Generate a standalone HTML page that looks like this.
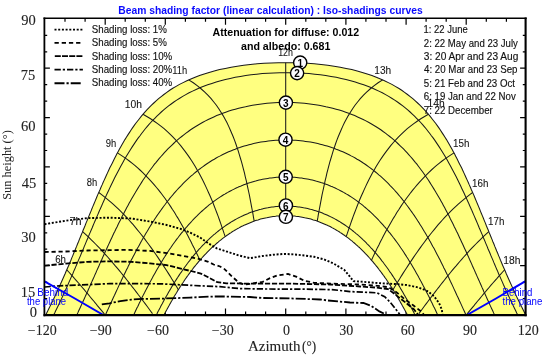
<!DOCTYPE html>
<html><head><meta charset="utf-8"><style>html,body{margin:0;padding:0;background:#fff;width:550px;height:359px;overflow:hidden}svg{display:block;filter:blur(0.3px)}</style></head><body>
<svg width="550" height="359" viewBox="0 0 550 359">
<rect width="550" height="359" fill="#fff"/>
<defs><clipPath id="pc"><rect x="44.4" y="18.3" width="481.2" height="296.8"/></clipPath></defs>
<path d="M65.0,18.3v3.5M65.0,315.1v-3.5M85.1,18.3v3.5M85.1,315.1v-3.5M105.2,18.3v6.5M105.2,315.1v-6.5M125.2,18.3v3.5M125.2,315.1v-3.5M145.3,18.3v3.5M145.3,315.1v-3.5M165.3,18.3v6.5M165.3,315.1v-6.5M185.4,18.3v3.5M185.4,315.1v-3.5M205.5,18.3v3.5M205.5,315.1v-3.5M225.5,18.3v6.5M225.5,315.1v-6.5M245.6,18.3v3.5M245.6,315.1v-3.5M265.6,18.3v3.5M265.6,315.1v-3.5M285.7,18.3v6.5M285.7,315.1v-6.5M305.8,18.3v3.5M305.8,315.1v-3.5M325.8,18.3v3.5M325.8,315.1v-3.5M345.9,18.3v6.5M345.9,315.1v-6.5M365.9,18.3v3.5M365.9,315.1v-3.5M386.0,18.3v3.5M386.0,315.1v-3.5M406.1,18.3v6.5M406.1,315.1v-6.5M426.1,18.3v3.5M426.1,315.1v-3.5M446.2,18.3v3.5M446.2,315.1v-3.5M466.2,18.3v6.5M466.2,315.1v-6.5M486.3,18.3v3.5M486.3,315.1v-3.5M506.4,18.3v3.5M506.4,315.1v-3.5M44.4,298.6h2.8M525.6,298.6h-2.8M44.4,282.1h2.8M525.6,282.1h-2.8M44.4,265.6h5.5M525.6,265.6h-5.5M44.4,249.2h2.8M525.6,249.2h-2.8M44.4,232.8h2.8M525.6,232.8h-2.8M44.4,216.3h5.5M525.6,216.3h-5.5M44.4,199.8h2.8M525.6,199.8h-2.8M44.4,183.4h2.8M525.6,183.4h-2.8M44.4,166.9h5.5M525.6,166.9h-5.5M44.4,150.5h2.8M525.6,150.5h-2.8M44.4,134.1h2.8M525.6,134.1h-2.8M44.4,117.6h5.5M525.6,117.6h-5.5M44.4,101.2h2.8M525.6,101.2h-2.8M44.4,84.7h2.8M525.6,84.7h-2.8M44.4,68.2h5.5M525.6,68.2h-5.5M44.4,51.8h2.8M525.6,51.8h-2.8M44.4,35.4h2.8M525.6,35.4h-2.8" stroke="#000" stroke-width="1.2" fill="none"/>
<g clip-path="url(#pc)">
<polygon points="45.6,315.0 46.7,312.9 47.8,310.8 48.8,308.7 49.9,306.6 50.9,304.5 52.0,302.3 53.0,300.2 54.1,298.0 55.1,295.9 56.1,293.7 57.1,291.5 58.1,289.3 59.1,287.1 60.1,284.9 61.1,282.7 62.1,280.5 63.1,278.3 64.1,276.0 65.1,273.8 66.0,271.5 67.0,269.3 68.0,267.0 69.0,264.7 69.9,262.5 70.9,260.2 71.8,257.9 72.8,255.6 73.7,253.3 74.7,251.0 75.6,248.7 76.6,246.4 77.5,244.0 78.5,241.7 79.4,239.4 80.4,237.0 81.3,234.7 82.3,232.4 83.2,230.0 84.2,227.7 85.2,225.3 86.1,222.9 87.1,220.6 88.0,218.2 89.0,215.9 90.0,213.5 91.0,211.1 91.9,208.7 92.9,206.4 93.9,204.0 94.9,201.6 95.9,199.2 96.9,196.8 97.9,194.4 98.9,192.1 100.0,189.7 101.0,187.3 102.1,184.9 103.1,182.5 104.2,180.1 105.3,177.7 106.4,175.3 107.5,172.9 108.6,170.5 109.7,168.1 110.9,165.8 112.1,163.4 113.3,161.0 114.5,158.6 115.7,156.2 116.9,153.8 118.2,151.5 119.5,149.1 120.8,146.7 122.2,144.3 123.5,142.0 124.9,139.6 126.4,137.3 127.9,134.9 129.4,132.6 130.9,130.2 132.5,127.9 134.1,125.6 135.8,123.3 137.6,121.0 139.4,118.7 141.2,116.4 143.1,114.1 145.1,111.9 147.1,109.6 149.3,107.4 151.5,105.2 153.8,103.0 156.1,100.8 158.6,98.7 161.2,96.6 163.9,94.5 166.8,92.4 169.7,90.3 172.8,88.3 176.1,86.4 179.5,84.4 183.1,82.6 186.9,80.7 190.9,78.9 195.1,77.2 199.5,75.5 204.2,74.0 209.1,72.4 214.2,71.0 219.6,69.6 225.3,68.4 231.2,67.2 237.3,66.2 243.7,65.3 250.3,64.5 257.2,63.8 264.1,63.3 271.2,63.0 278.5,62.7 285.7,62.7 292.9,62.7 300.2,63.0 307.3,63.3 314.2,63.8 321.1,64.5 327.7,65.3 334.1,66.2 340.2,67.2 346.1,68.4 351.8,69.6 357.2,71.0 362.3,72.4 367.2,74.0 371.9,75.5 376.3,77.2 380.5,78.9 384.5,80.7 388.3,82.6 391.9,84.4 395.3,86.4 398.6,88.3 401.7,90.3 404.6,92.4 407.5,94.5 410.2,96.6 412.8,98.7 415.3,100.8 417.6,103.0 419.9,105.2 422.1,107.4 424.3,109.6 426.3,111.9 428.3,114.1 430.2,116.4 432.0,118.7 433.8,121.0 435.6,123.3 437.3,125.6 438.9,127.9 440.5,130.2 442.0,132.6 443.5,134.9 445.0,137.3 446.5,139.6 447.9,142.0 449.2,144.3 450.6,146.7 451.9,149.1 453.2,151.5 454.5,153.8 455.7,156.2 456.9,158.6 458.1,161.0 459.3,163.4 460.5,165.8 461.7,168.1 462.8,170.5 463.9,172.9 465.0,175.3 466.1,177.7 467.2,180.1 468.3,182.5 469.3,184.9 470.4,187.3 471.4,189.7 472.5,192.1 473.5,194.4 474.5,196.8 475.5,199.2 476.5,201.6 477.5,204.0 478.5,206.4 479.5,208.7 480.4,211.1 481.4,213.5 482.4,215.9 483.4,218.2 484.3,220.6 485.3,222.9 486.2,225.3 487.2,227.7 488.2,230.0 489.1,232.4 490.1,234.7 491.0,237.0 492.0,239.4 492.9,241.7 493.9,244.0 494.8,246.4 495.8,248.7 496.7,251.0 497.7,253.3 498.6,255.6 499.6,257.9 500.5,260.2 501.5,262.5 502.4,264.7 503.4,267.0 504.4,269.3 505.4,271.5 506.3,273.8 507.3,276.0 508.3,278.3 509.3,280.5 510.3,282.7 511.3,284.9 512.3,287.1 513.3,289.3 514.3,291.5 515.3,293.7 516.3,295.9 517.3,298.0 518.4,300.2 519.4,302.3 520.5,304.5 521.5,306.6 522.6,308.7 523.6,310.8 524.7,312.9 525.8,315.0 407.4,315.0 406.7,313.6 406.0,312.3 405.3,310.9 404.5,309.6 403.8,308.2 403.1,306.9 402.3,305.5 401.6,304.2 400.8,302.9 400.1,301.6 399.3,300.2 398.6,298.9 397.8,297.6 397.1,296.3 396.3,295.0 395.5,293.8 394.7,292.5 394.0,291.2 393.2,289.9 392.4,288.7 391.6,287.4 390.8,286.2 390.0,284.9 389.2,283.7 388.3,282.5 387.5,281.3 386.7,280.0 385.9,278.8 385.0,277.6 384.2,276.4 383.3,275.3 382.5,274.1 381.6,272.9 380.8,271.8 379.9,270.6 379.0,269.5 378.2,268.3 377.3,267.2 376.4,266.1 375.5,265.0 374.6,263.9 373.7,262.8 372.8,261.7 371.8,260.6 370.9,259.6 370.0,258.5 369.1,257.5 368.1,256.4 367.2,255.4 366.2,254.4 365.2,253.4 364.3,252.4 363.3,251.4 362.3,250.4 361.3,249.4 360.3,248.5 359.4,247.5 358.3,246.6 357.3,245.7 356.3,244.8 355.3,243.9 354.3,243.0 353.2,242.1 352.2,241.2 351.1,240.4 350.1,239.6 349.0,238.7 348.0,237.9 346.9,237.1 345.8,236.3 344.7,235.5 343.6,234.8 342.5,234.0 341.4,233.3 340.3,232.6 339.2,231.8 338.1,231.1 337.0,230.5 335.8,229.8 334.7,229.1 333.6,228.5 332.4,227.9 331.3,227.2 330.1,226.6 328.9,226.1 327.8,225.5 326.6,224.9 325.4,224.4 324.2,223.9 323.0,223.4 321.8,222.9 320.6,222.4 319.4,221.9 318.2,221.5 317.0,221.1 315.8,220.6 314.6,220.2 313.3,219.9 312.1,219.5 310.9,219.1 309.6,218.8 308.4,218.5 307.2,218.2 305.9,217.9 304.7,217.7 303.4,217.4 302.2,217.2 300.9,217.0 299.6,216.8 298.4,216.6 297.1,216.4 295.8,216.3 294.6,216.1 293.3,216.0 292.0,215.9 290.8,215.8 289.5,215.8 288.2,215.7 287.0,215.7 285.7,215.7 284.4,215.7 283.2,215.7 281.9,215.8 280.6,215.8 279.4,215.9 278.1,216.0 276.8,216.1 275.6,216.3 274.3,216.4 273.0,216.6 271.8,216.8 270.5,217.0 269.2,217.2 268.0,217.4 266.7,217.7 265.5,217.9 264.2,218.2 263.0,218.5 261.8,218.8 260.5,219.1 259.3,219.5 258.1,219.9 256.8,220.2 255.6,220.6 254.4,221.1 253.2,221.5 252.0,221.9 250.8,222.4 249.6,222.9 248.4,223.4 247.2,223.9 246.0,224.4 244.8,224.9 243.6,225.5 242.5,226.1 241.3,226.6 240.1,227.2 239.0,227.9 237.8,228.5 236.7,229.1 235.6,229.8 234.4,230.5 233.3,231.1 232.2,231.8 231.1,232.6 230.0,233.3 228.9,234.0 227.8,234.8 226.7,235.5 225.6,236.3 224.5,237.1 223.4,237.9 222.4,238.7 221.3,239.6 220.3,240.4 219.2,241.2 218.2,242.1 217.1,243.0 216.1,243.9 215.1,244.8 214.1,245.7 213.1,246.6 212.0,247.5 211.1,248.5 210.1,249.4 209.1,250.4 208.1,251.4 207.1,252.4 206.2,253.4 205.2,254.4 204.2,255.4 203.3,256.4 202.3,257.5 201.4,258.5 200.5,259.6 199.6,260.6 198.6,261.7 197.7,262.8 196.8,263.9 195.9,265.0 195.0,266.1 194.1,267.2 193.2,268.3 192.4,269.5 191.5,270.6 190.6,271.8 189.8,272.9 188.9,274.1 188.1,275.3 187.2,276.4 186.4,277.6 185.5,278.8 184.7,280.0 183.9,281.3 183.1,282.5 182.2,283.7 181.4,284.9 180.6,286.2 179.8,287.4 179.0,288.7 178.2,289.9 177.4,291.2 176.7,292.5 175.9,293.8 175.1,295.0 174.3,296.3 173.6,297.6 172.8,298.9 172.1,300.2 171.3,301.6 170.6,302.9 169.8,304.2 169.1,305.5 168.3,306.9 167.6,308.2 166.9,309.6 166.1,310.9 165.4,312.3 164.7,313.6 164.0,315.0" fill="#FFFF80" stroke="none"/>
<polyline points="45.6,315.0 46.7,312.9 47.8,310.8 48.8,308.7 49.9,306.6 50.9,304.5 52.0,302.3 53.0,300.2 54.1,298.0 55.1,295.9 56.1,293.7 57.1,291.5 58.1,289.3 59.1,287.1 60.1,284.9 61.1,282.7 62.1,280.5 63.1,278.3 64.1,276.0 65.1,273.8 66.0,271.5 67.0,269.3 68.0,267.0 69.0,264.7 69.9,262.5 70.9,260.2 71.8,257.9 72.8,255.6 73.7,253.3 74.7,251.0 75.6,248.7 76.6,246.4 77.5,244.0 78.5,241.7 79.4,239.4 80.4,237.0 81.3,234.7 82.3,232.4 83.2,230.0 84.2,227.7 85.2,225.3 86.1,222.9 87.1,220.6 88.0,218.2 89.0,215.9 90.0,213.5 91.0,211.1 91.9,208.7 92.9,206.4 93.9,204.0 94.9,201.6 95.9,199.2 96.9,196.8 97.9,194.4 98.9,192.1 100.0,189.7 101.0,187.3 102.1,184.9 103.1,182.5 104.2,180.1 105.3,177.7 106.4,175.3 107.5,172.9 108.6,170.5 109.7,168.1 110.9,165.8 112.1,163.4 113.3,161.0 114.5,158.6 115.7,156.2 116.9,153.8 118.2,151.5 119.5,149.1 120.8,146.7 122.2,144.3 123.5,142.0 124.9,139.6 126.4,137.3 127.9,134.9 129.4,132.6 130.9,130.2 132.5,127.9 134.1,125.6 135.8,123.3 137.6,121.0 139.4,118.7 141.2,116.4 143.1,114.1 145.1,111.9 147.1,109.6 149.3,107.4 151.5,105.2 153.8,103.0 156.1,100.8 158.6,98.7 161.2,96.6 163.9,94.5 166.8,92.4 169.7,90.3 172.8,88.3 176.1,86.4 179.5,84.4 183.1,82.6 186.9,80.7 190.9,78.9 195.1,77.2 199.5,75.5 204.2,74.0 209.1,72.4 214.2,71.0 219.6,69.6 225.3,68.4 231.2,67.2 237.3,66.2 243.7,65.3 250.3,64.5 257.2,63.8 264.1,63.3 271.2,63.0 278.5,62.7 285.7,62.7 292.9,62.7 300.2,63.0 307.3,63.3 314.2,63.8 321.1,64.5 327.7,65.3 334.1,66.2 340.2,67.2 346.1,68.4 351.8,69.6 357.2,71.0 362.3,72.4 367.2,74.0 371.9,75.5 376.3,77.2 380.5,78.9 384.5,80.7 388.3,82.6 391.9,84.4 395.3,86.4 398.6,88.3 401.7,90.3 404.6,92.4 407.5,94.5 410.2,96.6 412.8,98.7 415.3,100.8 417.6,103.0 419.9,105.2 422.1,107.4 424.3,109.6 426.3,111.9 428.3,114.1 430.2,116.4 432.0,118.7 433.8,121.0 435.6,123.3 437.3,125.6 438.9,127.9 440.5,130.2 442.0,132.6 443.5,134.9 445.0,137.3 446.5,139.6 447.9,142.0 449.2,144.3 450.6,146.7 451.9,149.1 453.2,151.5 454.5,153.8 455.7,156.2 456.9,158.6 458.1,161.0 459.3,163.4 460.5,165.8 461.7,168.1 462.8,170.5 463.9,172.9 465.0,175.3 466.1,177.7 467.2,180.1 468.3,182.5 469.3,184.9 470.4,187.3 471.4,189.7 472.5,192.1 473.5,194.4 474.5,196.8 475.5,199.2 476.5,201.6 477.5,204.0 478.5,206.4 479.5,208.7 480.4,211.1 481.4,213.5 482.4,215.9 483.4,218.2 484.3,220.6 485.3,222.9 486.2,225.3 487.2,227.7 488.2,230.0 489.1,232.4 490.1,234.7 491.0,237.0 492.0,239.4 492.9,241.7 493.9,244.0 494.8,246.4 495.8,248.7 496.7,251.0 497.7,253.3 498.6,255.6 499.6,257.9 500.5,260.2 501.5,262.5 502.4,264.7 503.4,267.0 504.4,269.3 505.4,271.5 506.3,273.8 507.3,276.0 508.3,278.3 509.3,280.5 510.3,282.7 511.3,284.9 512.3,287.1 513.3,289.3 514.3,291.5 515.3,293.7 516.3,295.9 517.3,298.0 518.4,300.2 519.4,302.3 520.5,304.5 521.5,306.6 522.6,308.7 523.6,310.8 524.7,312.9 525.8,315.0" fill="none" stroke="#1a1a1a" stroke-width="1.05"/>
<polyline points="53.6,315.0 54.7,312.9 55.7,310.8 56.7,308.7 57.8,306.5 58.8,304.4 59.8,302.2 60.9,300.1 61.9,297.9 62.9,295.7 63.9,293.6 64.9,291.4 65.9,289.2 66.9,287.0 67.9,284.8 68.8,282.6 69.8,280.4 70.8,278.1 71.8,275.9 72.8,273.7 73.7,271.4 74.7,269.2 75.7,266.9 76.6,264.7 77.6,262.4 78.5,260.1 79.5,257.9 80.5,255.6 81.4,253.3 82.4,251.0 83.4,248.7 84.3,246.4 85.3,244.1 86.2,241.9 87.2,239.5 88.2,237.2 89.1,234.9 90.1,232.6 91.1,230.3 92.1,228.0 93.0,225.7 94.0,223.4 95.0,221.0 96.0,218.7 97.0,216.4 98.0,214.1 99.0,211.7 100.0,209.4 101.1,207.1 102.1,204.8 103.1,202.4 104.2,200.1 105.2,197.8 106.3,195.4 107.4,193.1 108.5,190.8 109.6,188.4 110.7,186.1 111.8,183.8 112.9,181.5 114.1,179.1 115.2,176.8 116.4,174.5 117.6,172.2 118.8,169.9 120.1,167.5 121.3,165.2 122.6,162.9 123.9,160.6 125.2,158.3 126.5,156.0 127.9,153.7 129.3,151.5 130.7,149.2 132.2,146.9 133.7,144.6 135.2,142.4 136.7,140.1 138.3,137.9 140.0,135.7 141.6,133.5 143.4,131.2 145.1,129.0 146.9,126.9 148.8,124.7 150.7,122.5 152.7,120.4 154.8,118.3 156.9,116.2 159.1,114.1 161.3,112.0 163.7,109.9 166.1,107.9 168.6,105.9 171.2,104.0 173.9,102.0 176.7,100.1 179.7,98.2 182.7,96.4 185.8,94.6 189.1,92.8 192.6,91.1 196.1,89.5 199.8,87.8 203.7,86.3 207.7,84.8 211.9,83.4 216.2,82.0 220.7,80.7 225.4,79.5 230.2,78.4 235.2,77.3 240.4,76.4 245.7,75.5 251.1,74.8 256.7,74.2 262.3,73.6 268.1,73.2 273.9,72.9 279.8,72.8 285.7,72.7 291.6,72.8 297.5,72.9 303.3,73.2 309.1,73.6 314.7,74.2 320.3,74.8 325.7,75.5 331.0,76.4 336.2,77.3 341.2,78.4 346.0,79.5 350.7,80.7 355.2,82.0 359.5,83.4 363.7,84.8 367.7,86.3 371.6,87.8 375.3,89.5 378.8,91.1 382.3,92.8 385.6,94.6 388.7,96.4 391.7,98.2 394.7,100.1 397.5,102.0 400.2,104.0 402.8,105.9 405.3,107.9 407.7,109.9 410.1,112.0 412.3,114.1 414.5,116.2 416.6,118.3 418.7,120.4 420.7,122.5 422.6,124.7 424.5,126.9 426.3,129.0 428.0,131.2 429.8,133.5 431.4,135.7 433.1,137.9 434.7,140.1 436.2,142.4 437.7,144.6 439.2,146.9 440.7,149.2 442.1,151.5 443.5,153.7 444.9,156.0 446.2,158.3 447.5,160.6 448.8,162.9 450.1,165.2 451.3,167.5 452.6,169.9 453.8,172.2 455.0,174.5 456.2,176.8 457.3,179.1 458.5,181.5 459.6,183.8 460.7,186.1 461.8,188.4 462.9,190.8 464.0,193.1 465.1,195.4 466.2,197.8 467.2,200.1 468.3,202.4 469.3,204.8 470.3,207.1 471.4,209.4 472.4,211.7 473.4,214.1 474.4,216.4 475.4,218.7 476.4,221.0 477.4,223.4 478.4,225.7 479.3,228.0 480.3,230.3 481.3,232.6 482.3,234.9 483.2,237.2 484.2,239.5 485.2,241.9 486.1,244.1 487.1,246.4 488.0,248.7 489.0,251.0 490.0,253.3 490.9,255.6 491.9,257.9 492.9,260.1 493.8,262.4 494.8,264.7 495.7,266.9 496.7,269.2 497.7,271.4 498.6,273.7 499.6,275.9 500.6,278.1 501.6,280.4 502.6,282.6 503.5,284.8 504.5,287.0 505.5,289.2 506.5,291.4 507.5,293.6 508.5,295.7 509.5,297.9 510.5,300.1 511.6,302.2 512.6,304.4 513.6,306.5 514.7,308.7 515.7,310.8 516.7,312.9 517.8,315.0" fill="none" stroke="#1a1a1a" stroke-width="1.05"/>
<polyline points="76.8,315.0 77.8,312.9 78.7,310.8 79.7,308.7 80.7,306.6 81.7,304.4 82.6,302.3 83.6,300.2 84.6,298.1 85.5,295.9 86.5,293.8 87.5,291.7 88.4,289.5 89.4,287.4 90.3,285.2 91.3,283.1 92.2,280.9 93.2,278.8 94.2,276.6 95.1,274.4 96.1,272.3 97.0,270.1 98.0,268.0 99.0,265.8 99.9,263.6 100.9,261.5 101.9,259.3 102.8,257.1 103.8,255.0 104.8,252.8 105.8,250.6 106.8,248.5 107.8,246.3 108.8,244.1 109.8,242.0 110.8,239.8 111.8,237.7 112.8,235.5 113.8,233.3 114.9,231.2 115.9,229.0 117.0,226.9 118.0,224.7 119.1,222.5 120.2,220.4 121.3,218.3 122.3,216.1 123.5,214.0 124.6,211.8 125.7,209.7 126.8,207.6 128.0,205.4 129.1,203.3 130.3,201.2 131.5,199.1 132.7,197.0 133.9,194.9 135.2,192.8 136.4,190.7 137.7,188.6 139.0,186.5 140.3,184.5 141.6,182.4 142.9,180.3 144.3,178.3 145.7,176.3 147.1,174.2 148.5,172.2 150.0,170.2 151.5,168.2 153.0,166.2 154.5,164.2 156.1,162.3 157.7,160.3 159.3,158.4 161.0,156.5 162.7,154.6 164.4,152.7 166.1,150.8 167.9,148.9 169.8,147.1 171.7,145.3 173.6,143.5 175.5,141.7 177.5,139.9 179.6,138.2 181.7,136.5 183.8,134.8 186.0,133.1 188.3,131.5 190.6,129.8 192.9,128.3 195.3,126.7 197.8,125.2 200.3,123.7 202.9,122.3 205.5,120.9 208.2,119.5 211.0,118.2 213.8,116.9 216.7,115.6 219.6,114.4 222.7,113.3 225.7,112.2 228.9,111.1 232.1,110.1 235.3,109.2 238.7,108.3 242.0,107.4 245.5,106.7 248.9,105.9 252.5,105.3 256.0,104.7 259.6,104.2 263.3,103.7 267.0,103.3 270.7,103.0 274.4,102.8 278.2,102.6 281.9,102.5 285.7,102.5 289.5,102.5 293.2,102.6 297.0,102.8 300.7,103.0 304.4,103.3 308.1,103.7 311.8,104.2 315.4,104.7 318.9,105.3 322.5,105.9 325.9,106.7 329.4,107.4 332.7,108.3 336.1,109.2 339.3,110.1 342.5,111.1 345.7,112.2 348.7,113.3 351.8,114.4 354.7,115.6 357.6,116.9 360.4,118.2 363.2,119.5 365.9,120.9 368.5,122.3 371.1,123.7 373.6,125.2 376.1,126.7 378.5,128.3 380.8,129.8 383.1,131.5 385.4,133.1 387.6,134.8 389.7,136.5 391.8,138.2 393.9,139.9 395.9,141.7 397.8,143.5 399.7,145.3 401.6,147.1 403.5,148.9 405.3,150.8 407.0,152.7 408.7,154.6 410.4,156.5 412.1,158.4 413.7,160.3 415.3,162.3 416.9,164.2 418.4,166.2 419.9,168.2 421.4,170.2 422.9,172.2 424.3,174.2 425.7,176.3 427.1,178.3 428.5,180.3 429.8,182.4 431.1,184.5 432.4,186.5 433.7,188.6 435.0,190.7 436.2,192.8 437.5,194.9 438.7,197.0 439.9,199.1 441.1,201.2 442.3,203.3 443.4,205.4 444.6,207.6 445.7,209.7 446.8,211.8 447.9,214.0 449.1,216.1 450.1,218.3 451.2,220.4 452.3,222.5 453.4,224.7 454.4,226.9 455.5,229.0 456.5,231.2 457.6,233.3 458.6,235.5 459.6,237.7 460.6,239.8 461.6,242.0 462.6,244.1 463.6,246.3 464.6,248.5 465.6,250.6 466.6,252.8 467.6,255.0 468.6,257.1 469.5,259.3 470.5,261.5 471.5,263.6 472.4,265.8 473.4,268.0 474.4,270.1 475.3,272.3 476.3,274.4 477.2,276.6 478.2,278.8 479.2,280.9 480.1,283.1 481.1,285.2 482.0,287.4 483.0,289.5 483.9,291.7 484.9,293.8 485.9,295.9 486.8,298.1 487.8,300.2 488.8,302.3 489.7,304.4 490.7,306.6 491.7,308.7 492.7,310.8 493.6,312.9 494.6,315.0" fill="none" stroke="#1a1a1a" stroke-width="1.05"/>
<polyline points="105.4,315.0 106.3,313.0 107.2,311.0 108.1,309.1 109.0,307.1 109.9,305.1 110.8,303.1 111.7,301.2 112.6,299.2 113.5,297.2 114.5,295.3 115.4,293.3 116.3,291.3 117.2,289.4 118.1,287.4 119.0,285.4 119.9,283.5 120.9,281.5 121.8,279.5 122.7,277.6 123.7,275.6 124.6,273.7 125.6,271.7 126.5,269.8 127.5,267.9 128.4,265.9 129.4,264.0 130.4,262.1 131.3,260.1 132.3,258.2 133.3,256.3 134.3,254.4 135.3,252.5 136.3,250.6 137.3,248.6 138.4,246.8 139.4,244.9 140.4,243.0 141.5,241.1 142.5,239.2 143.6,237.3 144.7,235.5 145.8,233.6 146.9,231.8 148.0,229.9 149.1,228.1 150.2,226.3 151.4,224.4 152.5,222.6 153.7,220.8 154.8,219.0 156.0,217.2 157.2,215.4 158.4,213.7 159.7,211.9 160.9,210.2 162.2,208.4 163.4,206.7 164.7,205.0 166.0,203.2 167.3,201.5 168.7,199.9 170.0,198.2 171.4,196.5 172.8,194.9 174.2,193.2 175.6,191.6 177.0,190.0 178.5,188.4 180.0,186.8 181.5,185.3 183.0,183.7 184.5,182.2 186.1,180.7 187.7,179.2 189.3,177.7 190.9,176.2 192.6,174.8 194.2,173.4 195.9,172.0 197.6,170.6 199.4,169.2 201.2,167.9 203.0,166.6 204.8,165.3 206.6,164.0 208.5,162.8 210.4,161.5 212.3,160.3 214.3,159.2 216.2,158.0 218.2,156.9 220.3,155.9 222.3,154.8 224.4,153.8 226.5,152.8 228.6,151.8 230.8,150.9 233.0,150.0 235.2,149.2 237.4,148.3 239.7,147.6 241.9,146.8 244.2,146.1 246.6,145.4 248.9,144.8 251.3,144.2 253.6,143.6 256.0,143.1 258.4,142.6 260.9,142.1 263.3,141.7 265.8,141.4 268.2,141.1 270.7,140.8 273.2,140.5 275.7,140.3 278.2,140.2 280.7,140.1 283.2,140.0 285.7,140.0 288.2,140.0 290.7,140.1 293.2,140.2 295.7,140.3 298.2,140.5 300.7,140.8 303.2,141.1 305.6,141.4 308.1,141.7 310.5,142.1 313.0,142.6 315.4,143.1 317.8,143.6 320.1,144.2 322.5,144.8 324.8,145.4 327.2,146.1 329.5,146.8 331.7,147.6 334.0,148.3 336.2,149.2 338.4,150.0 340.6,150.9 342.8,151.8 344.9,152.8 347.0,153.8 349.1,154.8 351.1,155.9 353.2,156.9 355.2,158.0 357.1,159.2 359.1,160.3 361.0,161.5 362.9,162.8 364.8,164.0 366.6,165.3 368.4,166.6 370.2,167.9 372.0,169.2 373.8,170.6 375.5,172.0 377.2,173.4 378.8,174.8 380.5,176.2 382.1,177.7 383.7,179.2 385.3,180.7 386.9,182.2 388.4,183.7 389.9,185.3 391.4,186.8 392.9,188.4 394.4,190.0 395.8,191.6 397.2,193.2 398.6,194.9 400.0,196.5 401.4,198.2 402.7,199.9 404.1,201.5 405.4,203.2 406.7,205.0 408.0,206.7 409.2,208.4 410.5,210.2 411.7,211.9 413.0,213.7 414.2,215.4 415.4,217.2 416.6,219.0 417.7,220.8 418.9,222.6 420.0,224.4 421.2,226.3 422.3,228.1 423.4,229.9 424.5,231.8 425.6,233.6 426.7,235.5 427.8,237.3 428.9,239.2 429.9,241.1 431.0,243.0 432.0,244.9 433.0,246.8 434.1,248.6 435.1,250.6 436.1,252.5 437.1,254.4 438.1,256.3 439.1,258.2 440.1,260.1 441.0,262.1 442.0,264.0 443.0,265.9 443.9,267.9 444.9,269.8 445.8,271.7 446.8,273.7 447.7,275.6 448.7,277.6 449.6,279.5 450.5,281.5 451.5,283.5 452.4,285.4 453.3,287.4 454.2,289.4 455.1,291.3 456.0,293.3 456.9,295.3 457.9,297.2 458.8,299.2 459.7,301.2 460.6,303.1 461.5,305.1 462.4,307.1 463.3,309.1 464.2,311.0 465.1,313.0 466.0,315.0" fill="none" stroke="#1a1a1a" stroke-width="1.05"/>
<polyline points="133.7,315.0 134.5,313.3 135.3,311.5 136.1,309.8 136.9,308.1 137.8,306.4 138.6,304.7 139.4,302.9 140.3,301.2 141.1,299.5 141.9,297.8 142.8,296.1 143.6,294.4 144.5,292.8 145.4,291.1 146.2,289.4 147.1,287.7 148.0,286.0 148.8,284.4 149.7,282.7 150.6,281.1 151.5,279.4 152.4,277.8 153.3,276.1 154.2,274.5 155.1,272.9 156.0,271.3 157.0,269.6 157.9,268.0 158.8,266.4 159.8,264.8 160.7,263.3 161.7,261.7 162.7,260.1 163.6,258.5 164.6,257.0 165.6,255.4 166.6,253.9 167.6,252.3 168.6,250.8 169.6,249.3 170.7,247.8 171.7,246.3 172.7,244.8 173.8,243.3 174.9,241.8 175.9,240.4 177.0,238.9 178.1,237.5 179.2,236.0 180.3,234.6 181.4,233.2 182.6,231.8 183.7,230.4 184.9,229.0 186.0,227.6 187.2,226.3 188.4,224.9 189.6,223.6 190.8,222.3 192.0,221.0 193.2,219.7 194.4,218.4 195.7,217.1 197.0,215.9 198.2,214.6 199.5,213.4 200.8,212.2 202.1,211.0 203.4,209.8 204.8,208.6 206.1,207.5 207.5,206.4 208.8,205.2 210.2,204.1 211.6,203.1 213.0,202.0 214.5,200.9 215.9,199.9 217.3,198.9 218.8,197.9 220.3,196.9 221.7,196.0 223.2,195.0 224.8,194.1 226.3,193.2 227.8,192.4 229.4,191.5 230.9,190.7 232.5,189.9 234.1,189.1 235.7,188.3 237.3,187.6 238.9,186.8 240.5,186.2 242.2,185.5 243.8,184.8 245.5,184.2 247.1,183.6 248.8,183.0 250.5,182.5 252.2,181.9 253.9,181.4 255.6,181.0 257.4,180.5 259.1,180.1 260.8,179.7 262.6,179.3 264.3,179.0 266.1,178.7 267.9,178.4 269.6,178.1 271.4,177.9 273.2,177.7 275.0,177.5 276.7,177.3 278.5,177.2 280.3,177.1 282.1,177.0 283.9,177.0 285.7,177.0 287.5,177.0 289.3,177.0 291.1,177.1 292.9,177.2 294.7,177.3 296.4,177.5 298.2,177.7 300.0,177.9 301.8,178.1 303.5,178.4 305.3,178.7 307.1,179.0 308.8,179.3 310.6,179.7 312.3,180.1 314.0,180.5 315.8,181.0 317.5,181.4 319.2,181.9 320.9,182.5 322.6,183.0 324.3,183.6 325.9,184.2 327.6,184.8 329.2,185.5 330.9,186.2 332.5,186.8 334.1,187.6 335.7,188.3 337.3,189.1 338.9,189.9 340.5,190.7 342.0,191.5 343.6,192.4 345.1,193.2 346.6,194.1 348.2,195.0 349.7,196.0 351.1,196.9 352.6,197.9 354.1,198.9 355.5,199.9 356.9,200.9 358.4,202.0 359.8,203.1 361.2,204.1 362.6,205.2 363.9,206.4 365.3,207.5 366.6,208.6 368.0,209.8 369.3,211.0 370.6,212.2 371.9,213.4 373.2,214.6 374.4,215.9 375.7,217.1 377.0,218.4 378.2,219.7 379.4,221.0 380.6,222.3 381.8,223.6 383.0,224.9 384.2,226.3 385.4,227.6 386.5,229.0 387.7,230.4 388.8,231.8 390.0,233.2 391.1,234.6 392.2,236.0 393.3,237.5 394.4,238.9 395.5,240.4 396.5,241.8 397.6,243.3 398.7,244.8 399.7,246.3 400.7,247.8 401.8,249.3 402.8,250.8 403.8,252.3 404.8,253.9 405.8,255.4 406.8,257.0 407.8,258.5 408.7,260.1 409.7,261.7 410.7,263.3 411.6,264.8 412.6,266.4 413.5,268.0 414.4,269.6 415.4,271.3 416.3,272.9 417.2,274.5 418.1,276.1 419.0,277.8 419.9,279.4 420.8,281.1 421.7,282.7 422.6,284.4 423.4,286.0 424.3,287.7 425.2,289.4 426.0,291.1 426.9,292.8 427.8,294.4 428.6,296.1 429.5,297.8 430.3,299.5 431.1,301.2 432.0,302.9 432.8,304.7 433.6,306.4 434.5,308.1 435.3,309.8 436.1,311.5 436.9,313.3 437.7,315.0" fill="none" stroke="#1a1a1a" stroke-width="1.05"/>
<polyline points="156.3,315.0 157.1,313.5 157.8,312.1 158.6,310.6 159.3,309.2 160.1,307.7 160.8,306.3 161.6,304.8 162.4,303.4 163.1,302.0 163.9,300.5 164.7,299.1 165.5,297.7 166.3,296.3 167.1,294.9 167.9,293.5 168.7,292.1 169.5,290.7 170.3,289.4 171.1,288.0 171.9,286.6 172.7,285.3 173.6,283.9 174.4,282.6 175.2,281.2 176.1,279.9 176.9,278.6 177.8,277.3 178.7,275.9 179.5,274.6 180.4,273.3 181.3,272.1 182.2,270.8 183.0,269.5 183.9,268.2 184.8,267.0 185.8,265.7 186.7,264.5 187.6,263.3 188.5,262.0 189.5,260.8 190.4,259.6 191.3,258.4 192.3,257.2 193.2,256.1 194.2,254.9 195.2,253.7 196.2,252.6 197.2,251.4 198.1,250.3 199.1,249.2 200.2,248.1 201.2,247.0 202.2,245.9 203.2,244.8 204.3,243.8 205.3,242.7 206.3,241.7 207.4,240.6 208.5,239.6 209.5,238.6 210.6,237.6 211.7,236.6 212.8,235.7 213.9,234.7 215.0,233.8 216.1,232.8 217.3,231.9 218.4,231.0 219.5,230.1 220.7,229.2 221.8,228.4 223.0,227.5 224.2,226.7 225.3,225.8 226.5,225.0 227.7,224.2 228.9,223.5 230.1,222.7 231.3,221.9 232.5,221.2 233.8,220.5 235.0,219.8 236.2,219.1 237.5,218.4 238.7,217.8 240.0,217.1 241.3,216.5 242.5,215.9 243.8,215.3 245.1,214.7 246.4,214.2 247.7,213.7 249.0,213.1 250.3,212.6 251.6,212.1 252.9,211.7 254.3,211.2 255.6,210.8 256.9,210.4 258.3,210.0 259.6,209.6 261.0,209.3 262.3,208.9 263.7,208.6 265.0,208.3 266.4,208.0 267.8,207.8 269.1,207.5 270.5,207.3 271.9,207.1 273.2,206.9 274.6,206.7 276.0,206.6 277.4,206.5 278.8,206.3 280.2,206.3 281.5,206.2 282.9,206.1 284.3,206.1 285.7,206.1 287.1,206.1 288.5,206.1 289.9,206.2 291.2,206.3 292.6,206.3 294.0,206.5 295.4,206.6 296.8,206.7 298.2,206.9 299.5,207.1 300.9,207.3 302.3,207.5 303.6,207.8 305.0,208.0 306.4,208.3 307.7,208.6 309.1,208.9 310.4,209.3 311.8,209.6 313.1,210.0 314.5,210.4 315.8,210.8 317.1,211.2 318.5,211.7 319.8,212.1 321.1,212.6 322.4,213.1 323.7,213.7 325.0,214.2 326.3,214.7 327.6,215.3 328.9,215.9 330.1,216.5 331.4,217.1 332.7,217.8 333.9,218.4 335.2,219.1 336.4,219.8 337.6,220.5 338.9,221.2 340.1,221.9 341.3,222.7 342.5,223.5 343.7,224.2 344.9,225.0 346.1,225.8 347.2,226.7 348.4,227.5 349.6,228.4 350.7,229.2 351.9,230.1 353.0,231.0 354.1,231.9 355.3,232.8 356.4,233.8 357.5,234.7 358.6,235.7 359.7,236.6 360.8,237.6 361.9,238.6 362.9,239.6 364.0,240.6 365.1,241.7 366.1,242.7 367.1,243.8 368.2,244.8 369.2,245.9 370.2,247.0 371.2,248.1 372.3,249.2 373.3,250.3 374.2,251.4 375.2,252.6 376.2,253.7 377.2,254.9 378.2,256.1 379.1,257.2 380.1,258.4 381.0,259.6 381.9,260.8 382.9,262.0 383.8,263.3 384.7,264.5 385.6,265.7 386.6,267.0 387.5,268.2 388.4,269.5 389.2,270.8 390.1,272.1 391.0,273.3 391.9,274.6 392.7,275.9 393.6,277.3 394.5,278.6 395.3,279.9 396.2,281.2 397.0,282.6 397.8,283.9 398.7,285.3 399.5,286.6 400.3,288.0 401.1,289.4 401.9,290.7 402.7,292.1 403.5,293.5 404.3,294.9 405.1,296.3 405.9,297.7 406.7,299.1 407.5,300.5 408.3,302.0 409.0,303.4 409.8,304.8 410.6,306.3 411.3,307.7 412.1,309.2 412.8,310.6 413.6,312.1 414.3,313.5 415.1,315.0" fill="none" stroke="#1a1a1a" stroke-width="1.05"/>
<polyline points="164.0,315.0 164.7,313.6 165.4,312.3 166.1,310.9 166.9,309.6 167.6,308.2 168.3,306.9 169.1,305.5 169.8,304.2 170.6,302.9 171.3,301.6 172.1,300.2 172.8,298.9 173.6,297.6 174.3,296.3 175.1,295.0 175.9,293.8 176.7,292.5 177.4,291.2 178.2,289.9 179.0,288.7 179.8,287.4 180.6,286.2 181.4,284.9 182.2,283.7 183.1,282.5 183.9,281.3 184.7,280.0 185.5,278.8 186.4,277.6 187.2,276.4 188.1,275.3 188.9,274.1 189.8,272.9 190.6,271.8 191.5,270.6 192.4,269.5 193.2,268.3 194.1,267.2 195.0,266.1 195.9,265.0 196.8,263.9 197.7,262.8 198.6,261.7 199.6,260.6 200.5,259.6 201.4,258.5 202.3,257.5 203.3,256.4 204.2,255.4 205.2,254.4 206.2,253.4 207.1,252.4 208.1,251.4 209.1,250.4 210.1,249.4 211.1,248.5 212.0,247.5 213.1,246.6 214.1,245.7 215.1,244.8 216.1,243.9 217.1,243.0 218.2,242.1 219.2,241.2 220.3,240.4 221.3,239.6 222.4,238.7 223.4,237.9 224.5,237.1 225.6,236.3 226.7,235.5 227.8,234.8 228.9,234.0 230.0,233.3 231.1,232.6 232.2,231.8 233.3,231.1 234.4,230.5 235.6,229.8 236.7,229.1 237.8,228.5 239.0,227.9 240.1,227.2 241.3,226.6 242.5,226.1 243.6,225.5 244.8,224.9 246.0,224.4 247.2,223.9 248.4,223.4 249.6,222.9 250.8,222.4 252.0,221.9 253.2,221.5 254.4,221.1 255.6,220.6 256.8,220.2 258.1,219.9 259.3,219.5 260.5,219.1 261.8,218.8 263.0,218.5 264.2,218.2 265.5,217.9 266.7,217.7 268.0,217.4 269.2,217.2 270.5,217.0 271.8,216.8 273.0,216.6 274.3,216.4 275.6,216.3 276.8,216.1 278.1,216.0 279.4,215.9 280.6,215.8 281.9,215.8 283.2,215.7 284.4,215.7 285.7,215.7 287.0,215.7 288.2,215.7 289.5,215.8 290.8,215.8 292.0,215.9 293.3,216.0 294.6,216.1 295.8,216.3 297.1,216.4 298.4,216.6 299.6,216.8 300.9,217.0 302.2,217.2 303.4,217.4 304.7,217.7 305.9,217.9 307.2,218.2 308.4,218.5 309.6,218.8 310.9,219.1 312.1,219.5 313.3,219.9 314.6,220.2 315.8,220.6 317.0,221.1 318.2,221.5 319.4,221.9 320.6,222.4 321.8,222.9 323.0,223.4 324.2,223.9 325.4,224.4 326.6,224.9 327.8,225.5 328.9,226.1 330.1,226.6 331.3,227.2 332.4,227.9 333.6,228.5 334.7,229.1 335.8,229.8 337.0,230.5 338.1,231.1 339.2,231.8 340.3,232.6 341.4,233.3 342.5,234.0 343.6,234.8 344.7,235.5 345.8,236.3 346.9,237.1 348.0,237.9 349.0,238.7 350.1,239.6 351.1,240.4 352.2,241.2 353.2,242.1 354.3,243.0 355.3,243.9 356.3,244.8 357.3,245.7 358.3,246.6 359.4,247.5 360.3,248.5 361.3,249.4 362.3,250.4 363.3,251.4 364.3,252.4 365.2,253.4 366.2,254.4 367.2,255.4 368.1,256.4 369.1,257.5 370.0,258.5 370.9,259.6 371.8,260.6 372.8,261.7 373.7,262.8 374.6,263.9 375.5,265.0 376.4,266.1 377.3,267.2 378.2,268.3 379.0,269.5 379.9,270.6 380.8,271.8 381.6,272.9 382.5,274.1 383.3,275.3 384.2,276.4 385.0,277.6 385.9,278.8 386.7,280.0 387.5,281.3 388.3,282.5 389.2,283.7 390.0,284.9 390.8,286.2 391.6,287.4 392.4,288.7 393.2,289.9 394.0,291.2 394.7,292.5 395.5,293.8 396.3,295.0 397.1,296.3 397.8,297.6 398.6,298.9 399.3,300.2 400.1,301.6 400.8,302.9 401.6,304.2 402.3,305.5 403.1,306.9 403.8,308.2 404.5,309.6 405.3,310.9 406.0,312.3 406.7,313.6 407.4,315.0" fill="none" stroke="#1a1a1a" stroke-width="1.05"/>
<polyline points="66.8,269.8 68.8,272.0 70.7,274.2 72.7,276.4 74.6,278.6 76.6,280.8 78.5,283.0 80.4,285.2 82.3,287.5 84.2,289.7 86.1,292.0 88.0,294.2 89.9,296.5 91.8,298.8 93.7,301.0 95.6,303.3 97.4,305.6 99.3,307.9 101.2,310.2 103.1,312.4 104.9,314.7" fill="none" stroke="#1a1a1a" stroke-width="1.05"/>
<polyline points="82.6,231.7 84.8,233.7 87.0,235.7 89.1,237.7 91.3,239.8 93.4,241.9 95.5,244.0 97.6,246.1 99.6,248.2 101.7,250.4 103.7,252.6 105.7,254.8 107.7,257.0 109.7,259.3 111.6,261.5 113.6,263.8 115.5,266.1 117.5,268.4 119.4,270.7 121.3,273.0 123.2,275.3 125.1,277.7 126.9,280.0 128.8,282.4 130.7,284.7 132.5,287.1 134.4,289.5 136.2,291.9 138.0,294.3 139.9,296.7 141.7,299.1 143.5,301.5 145.3,303.9 147.1,306.3 148.9,308.7 150.7,311.2 152.5,313.6" fill="none" stroke="#1a1a1a" stroke-width="1.05"/>
<polyline points="98.8,192.5 101.3,194.3 103.8,196.3 106.3,198.3 108.7,200.3 111.1,202.3 113.4,204.4 115.8,206.6 118.0,208.7 120.3,210.9 122.5,213.2 124.7,215.4 126.9,217.7 129.0,220.0 131.1,222.4 133.2,224.7 135.2,227.1 137.2,229.6 139.2,232.0 141.2,234.5 143.1,236.9 145.0,239.4 146.9,242.0 148.8,244.5 150.7,247.1 152.5,249.6 154.3,252.2 156.1,254.8 157.9,257.4 159.7,260.1 161.5,262.7 163.2,265.4 164.9,268.0 166.7,270.7 168.4,273.4 170.1,276.1 171.7,278.8 173.4,281.5 175.1,284.2 176.8,286.9 178.4,289.7" fill="none" stroke="#1a1a1a" stroke-width="1.05"/>
<polyline points="117.4,152.9 120.5,154.9 123.5,156.9 126.4,158.9 129.3,161.0 132.0,163.2 134.8,165.4 137.4,167.7 140.0,170.0 142.5,172.4 145.0,174.8 147.4,177.3 149.8,179.8 152.1,182.3 154.3,184.9 156.5,187.5 158.7,190.2 160.8,192.8 162.8,195.5 164.9,198.3 166.8,201.0 168.8,203.8 170.7,206.6 172.5,209.5 174.4,212.3 176.1,215.2 177.9,218.1 179.6,221.0 181.3,223.9 183.0,226.9 184.7,229.8 186.3,232.8 187.9,235.8 189.4,238.8 191.0,241.8 192.5,244.9 194.1,247.9 195.5,251.0 197.0,254.0 198.5,257.1 199.9,260.2" fill="none" stroke="#1a1a1a" stroke-width="1.05"/>
<polyline points="143.0,114.3 146.8,116.5 150.6,118.8 154.2,121.2 157.6,123.6 160.9,126.1 164.1,128.7 167.1,131.4 170.0,134.1 172.8,136.9 175.4,139.7 178.0,142.5 180.5,145.4 182.8,148.4 185.1,151.4 187.3,154.4 189.4,157.4 191.5,160.5 193.4,163.6 195.4,166.8 197.2,169.9 199.0,173.1 200.7,176.3 202.4,179.6 204.0,182.8 205.6,186.1 207.1,189.4 208.6,192.7 210.1,196.0 211.5,199.3 212.9,202.6 214.2,206.0 215.5,209.4 216.8,212.7 218.1,216.1 219.3,219.5 220.5,222.9 221.7,226.3 222.9,229.8 224.0,233.2 225.2,236.6" fill="none" stroke="#1a1a1a" stroke-width="1.05"/>
<polyline points="188.7,79.9 193.3,82.8 197.5,85.9 201.3,89.0 204.8,92.2 208.1,95.4 211.1,98.7 213.8,102.0 216.4,105.3 218.8,108.7 221.0,112.2 223.1,115.6 225.0,119.1 226.9,122.6 228.6,126.1 230.2,129.7 231.7,133.2 233.2,136.8 234.6,140.4 235.9,144.0 237.1,147.6 238.3,151.2 239.4,154.8 240.5,158.5 241.6,162.1 242.6,165.8 243.5,169.4 244.5,173.1 245.3,176.8 246.2,180.4 247.0,184.1 247.8,187.8 248.6,191.5 249.4,195.2 250.1,198.9 250.8,202.6 251.5,206.3 252.2,210.0 252.9,213.7 253.5,217.4 254.2,221.1" fill="none" stroke="#1a1a1a" stroke-width="1.05"/>
<polyline points="285.7,62.7 285.7,66.5 285.7,70.3 285.7,74.1 285.7,78.0 285.7,81.8 285.7,85.6 285.7,89.4 285.7,93.3 285.7,97.1 285.7,100.9 285.7,104.7 285.7,108.6 285.7,112.4 285.7,116.2 285.7,120.1 285.7,123.9 285.7,127.7 285.7,131.5 285.7,135.4 285.7,139.2 285.7,143.0 285.7,146.8 285.7,150.7 285.7,154.5 285.7,158.3 285.7,162.1 285.7,166.0 285.7,169.8 285.7,173.6 285.7,177.4 285.7,181.3 285.7,185.1 285.7,188.9 285.7,192.8 285.7,196.6 285.7,200.4 285.7,204.2 285.7,208.1 285.7,211.9 285.7,215.7" fill="none" stroke="#1a1a1a" stroke-width="1.05"/>
<polyline points="382.7,79.9 378.1,82.8 373.9,85.9 370.1,89.0 366.6,92.2 363.3,95.4 360.3,98.7 357.6,102.0 355.0,105.3 352.6,108.7 350.4,112.2 348.3,115.6 346.4,119.1 344.5,122.6 342.8,126.1 341.2,129.7 339.7,133.2 338.2,136.8 336.8,140.4 335.5,144.0 334.3,147.6 333.1,151.2 332.0,154.8 330.9,158.5 329.8,162.1 328.8,165.8 327.9,169.4 326.9,173.1 326.1,176.8 325.2,180.4 324.4,184.1 323.6,187.8 322.8,191.5 322.0,195.2 321.3,198.9 320.6,202.6 319.9,206.3 319.2,210.0 318.5,213.7 317.9,217.4 317.2,221.1" fill="none" stroke="#1a1a1a" stroke-width="1.05"/>
<polyline points="428.4,114.3 424.6,116.5 420.8,118.8 417.2,121.2 413.8,123.6 410.5,126.1 407.3,128.7 404.3,131.4 401.4,134.1 398.6,136.9 396.0,139.7 393.4,142.5 390.9,145.4 388.6,148.4 386.3,151.4 384.1,154.4 382.0,157.4 379.9,160.5 378.0,163.6 376.0,166.8 374.2,169.9 372.4,173.1 370.7,176.3 369.0,179.6 367.4,182.8 365.8,186.1 364.3,189.4 362.8,192.7 361.3,196.0 359.9,199.3 358.5,202.6 357.2,206.0 355.9,209.4 354.6,212.7 353.3,216.1 352.1,219.5 350.9,222.9 349.7,226.3 348.5,229.8 347.4,233.2 346.2,236.6" fill="none" stroke="#1a1a1a" stroke-width="1.05"/>
<polyline points="454.0,152.9 450.9,154.9 447.9,156.9 445.0,158.9 442.1,161.0 439.4,163.2 436.6,165.4 434.0,167.7 431.4,170.0 428.9,172.4 426.4,174.8 424.0,177.3 421.6,179.8 419.3,182.3 417.1,184.9 414.9,187.5 412.7,190.2 410.6,192.8 408.6,195.5 406.5,198.3 404.6,201.0 402.6,203.8 400.7,206.6 398.9,209.5 397.0,212.3 395.3,215.2 393.5,218.1 391.8,221.0 390.1,223.9 388.4,226.9 386.7,229.8 385.1,232.8 383.5,235.8 382.0,238.8 380.4,241.8 378.9,244.9 377.3,247.9 375.9,251.0 374.4,254.0 372.9,257.1 371.5,260.2" fill="none" stroke="#1a1a1a" stroke-width="1.05"/>
<polyline points="472.6,192.5 470.1,194.3 467.6,196.3 465.1,198.3 462.7,200.3 460.3,202.3 458.0,204.4 455.6,206.6 453.4,208.7 451.1,210.9 448.9,213.2 446.7,215.4 444.5,217.7 442.4,220.0 440.3,222.4 438.2,224.7 436.2,227.1 434.2,229.6 432.2,232.0 430.2,234.5 428.3,236.9 426.4,239.4 424.5,242.0 422.6,244.5 420.7,247.1 418.9,249.6 417.1,252.2 415.3,254.8 413.5,257.4 411.7,260.1 409.9,262.7 408.2,265.4 406.5,268.0 404.7,270.7 403.0,273.4 401.3,276.1 399.7,278.8 398.0,281.5 396.3,284.2 394.6,286.9 393.0,289.7" fill="none" stroke="#1a1a1a" stroke-width="1.05"/>
<polyline points="488.8,231.7 486.6,233.7 484.4,235.7 482.3,237.7 480.1,239.8 478.0,241.9 475.9,244.0 473.8,246.1 471.8,248.2 469.7,250.4 467.7,252.6 465.7,254.8 463.7,257.0 461.7,259.3 459.8,261.5 457.8,263.8 455.9,266.1 453.9,268.4 452.0,270.7 450.1,273.0 448.2,275.3 446.3,277.7 444.5,280.0 442.6,282.4 440.7,284.7 438.9,287.1 437.0,289.5 435.2,291.9 433.4,294.3 431.5,296.7 429.7,299.1 427.9,301.5 426.1,303.9 424.3,306.3 422.5,308.7 420.7,311.2 418.9,313.6" fill="none" stroke="#1a1a1a" stroke-width="1.05"/>
<polyline points="504.6,269.8 502.6,272.0 500.7,274.2 498.7,276.4 496.8,278.6 494.8,280.8 492.9,283.0 491.0,285.2 489.1,287.5 487.2,289.7 485.3,292.0 483.4,294.2 481.5,296.5 479.6,298.8 477.7,301.0 475.8,303.3 474.0,305.6 472.1,307.9 470.2,310.2 468.3,312.4 466.5,314.7" fill="none" stroke="#1a1a1a" stroke-width="1.05"/>
<polyline points="44.5,224.2 54.9,222.5 65.8,220.7 72.4,219.8 87.6,218.1 109.5,217.7 131.3,218.5 150.0,221.5 166.7,225.0 183.4,229.7 191.7,233.4 200.1,237.5 208.4,243.4 216.8,248.4 230.0,252.6 239.0,255.5 250.0,258.2 262.7,256.0 275.5,254.5 285.0,253.9 294.7,254.5 304.5,255.5 314.2,256.8 324.0,259.4 333.9,263.7 344.4,270.0 349.3,275.9 353.4,281.1 363.0,281.8 377.9,283.1 396.8,284.1 406.4,285.0 415.8,286.9 419.1,287.7 428.2,291.4 434.5,296.8 439.1,303.2 441.8,309.5 442.7,316.0" fill="none" stroke="#000" stroke-width="1.9" stroke-dasharray="2 1.7"/>
<polyline points="44.5,252.0 65.8,251.5 87.6,250.5 109.5,250.2 126.9,249.8 150.0,250.9 166.7,253.1 183.4,255.9 196.7,258.4 208.4,261.8 213.6,264.5 220.1,266.5 224.5,269.1 231.8,276.4 239.0,282.7 244.5,284.5 251.8,283.6 262.7,281.8 270.0,278.2 277.3,275.5 288.0,274.0 296.7,276.9 304.5,280.8 314.2,282.8 333.7,283.7 360.0,284.5 375.0,285.5 388.5,287.2 397.0,292.7 405.0,299.5 413.5,305.5 421.0,311.4 425.0,316.0" fill="none" stroke="#000" stroke-width="1.8" stroke-dasharray="4.2 2.8"/>
<polyline points="44.5,265.7 65.8,263.6 87.6,261.8 109.5,261.4 131.3,261.8 150.0,263.4 166.7,265.1 183.4,269.3 190.9,271.0 200.9,273.6 208.2,277.3 217.3,282.2 226.4,283.3 244.5,283.6 262.7,283.6 290.0,283.6 330.0,284.5 360.0,286.5 375.0,287.5 388.0,289.0 394.0,293.5 401.0,299.0 408.0,304.5 414.0,309.5 419.0,316.0" fill="none" stroke="#000" stroke-width="1.8" stroke-dasharray="5.2 1.8"/>
<polyline points="44.5,287.0 59.3,285.8 87.6,284.7 109.5,283.6 131.3,283.6 160.0,283.8 190.0,285.3 220.0,286.7 240.0,288.6 265.0,289.0 300.0,289.1 332.0,289.6 350.0,291.6 376.7,292.8 384.7,296.7 390.0,302.0 395.4,308.7 399.4,314.0 400.5,316.0" fill="none" stroke="#000" stroke-width="1.7" stroke-dasharray="6.3 2 2.2 2"/>
<polyline points="101.8,304.4 109.5,303.3 120.4,301.1 131.3,299.6 142.2,298.9 160.0,298.7 190.0,297.6 210.0,296.6 220.0,296.4 250.0,297.0 262.0,298.0 290.0,298.4 320.0,299.5 328.0,300.5 350.0,302.5 363.4,303.0 371.4,306.0 379.4,311.4 384.7,314.0 386.0,316.0" fill="none" stroke="#000" stroke-width="1.8" stroke-dasharray="10 2 2.2 2"/>
<polyline points="44.5,281.4 74,298 104.3,315.5" fill="none" stroke="#0000ff" stroke-width="2"/>
<polyline points="466,315.5 496,298.5 525.6,281" fill="none" stroke="#0000ff" stroke-width="2"/>
</g>
<circle cx="300.2" cy="62.6" r="6.6" fill="#fbfbff" stroke="#000" stroke-width="1.4"/>
<text x="300.2" y="66.6" font-family="'Liberation Sans', sans-serif" font-weight="bold" font-size="10" text-anchor="middle" fill="#000">1</text>
<circle cx="297.1" cy="73.1" r="6.6" fill="#fbfbff" stroke="#000" stroke-width="1.4"/>
<text x="297.1" y="77.1" font-family="'Liberation Sans', sans-serif" font-weight="bold" font-size="10" text-anchor="middle" fill="#000">2</text>
<circle cx="285.9" cy="102.6" r="6.6" fill="#fbfbff" stroke="#000" stroke-width="1.4"/>
<text x="285.9" y="106.6" font-family="'Liberation Sans', sans-serif" font-weight="bold" font-size="10" text-anchor="middle" fill="#000">3</text>
<circle cx="285.5" cy="139.7" r="6.6" fill="#fbfbff" stroke="#000" stroke-width="1.4"/>
<text x="285.5" y="143.7" font-family="'Liberation Sans', sans-serif" font-weight="bold" font-size="10" text-anchor="middle" fill="#000">4</text>
<circle cx="285.7" cy="176.8" r="6.6" fill="#fbfbff" stroke="#000" stroke-width="1.4"/>
<text x="285.7" y="180.8" font-family="'Liberation Sans', sans-serif" font-weight="bold" font-size="10" text-anchor="middle" fill="#000">5</text>
<circle cx="285.9" cy="205.5" r="6.6" fill="#fbfbff" stroke="#000" stroke-width="1.4"/>
<text x="285.9" y="209.5" font-family="'Liberation Sans', sans-serif" font-weight="bold" font-size="10" text-anchor="middle" fill="#000">6</text>
<circle cx="285.9" cy="216.8" r="6.6" fill="#fbfbff" stroke="#000" stroke-width="1.4"/>
<text x="285.9" y="220.8" font-family="'Liberation Sans', sans-serif" font-weight="bold" font-size="10" text-anchor="middle" fill="#000">7</text>
<path d="M43.50,18.30H526.70" stroke="#000" stroke-width="1.6"/>
<path d="M44.40,17.50V316.20" stroke="#000" stroke-width="1.8"/>
<path d="M525.60,17.50V316.20" stroke="#000" stroke-width="2.1"/>
<path d="M43.50,315.10H526.65" stroke="#000" stroke-width="2.2"/>
<path d="M54.5,29.6H82.6" stroke="#000" stroke-width="1.6" stroke-dasharray="2 1.7"/>
<path d="M54.5,42.9H82.6" stroke="#000" stroke-width="1.7" stroke-dasharray="4.3 2.9"/>
<path d="M54.8,56.2H82.6" stroke="#000" stroke-width="1.8" stroke-dasharray="6 1.2"/>
<path d="M54.5,69.6H82.9" stroke="#000" stroke-width="1.8" stroke-dasharray="6.3 2 2.2 2"/>
<path d="M54.5,83.3H80.7" stroke="#000" stroke-width="1.9" stroke-dasharray="10 2 2.2 2"/>
<text transform="translate(55.13,263.10) scale(0.946,1)" font-family="'Liberation Sans', sans-serif" font-size="10.3" font-weight="normal" fill="#121212" stroke="#121212" stroke-width="0.08">6h</text>
<text transform="translate(69.57,225.00) scale(1.054,1)" font-family="'Liberation Sans', sans-serif" font-size="10.3" font-weight="normal" fill="#121212" stroke="#121212" stroke-width="0.08">7h</text>
<text transform="translate(86.64,186.40) scale(0.917,1)" font-family="'Liberation Sans', sans-serif" font-size="10.3" font-weight="normal" fill="#121212" stroke="#121212" stroke-width="0.08">8h</text>
<text transform="translate(105.64,147.10) scale(0.917,1)" font-family="'Liberation Sans', sans-serif" font-size="10.3" font-weight="normal" fill="#121212" stroke="#121212" stroke-width="0.08">9h</text>
<text x="124.85" y="108.10" font-family="'Liberation Sans', sans-serif" font-size="10.3" font-weight="normal" fill="#121212" stroke="#121212" stroke-width="0.08">10h</text>
<text transform="translate(172.31,73.50) scale(0.913,1)" font-family="'Liberation Sans', sans-serif" font-size="10.3" font-weight="normal" fill="#121212" stroke="#121212" stroke-width="0.08">11h</text>
<text transform="translate(278.15,56.30) scale(0.863,1)" font-family="'Liberation Sans', sans-serif" font-size="10.3" font-weight="normal" fill="#121212" stroke="#121212" stroke-width="0.08">12h</text>
<text transform="translate(374.26,73.70) scale(0.984,1)" font-family="'Liberation Sans', sans-serif" font-size="10.3" font-weight="normal" fill="#121212" stroke="#121212" stroke-width="0.08">13h</text>
<text x="427.45" y="107.40" font-family="'Liberation Sans', sans-serif" font-size="10.3" font-weight="normal" fill="#121212" stroke="#121212" stroke-width="0.08">14h</text>
<text transform="translate(452.99,147.00) scale(0.952,1)" font-family="'Liberation Sans', sans-serif" font-size="10.3" font-weight="normal" fill="#121212" stroke="#121212" stroke-width="0.08">15h</text>
<text transform="translate(472.09,186.60) scale(0.952,1)" font-family="'Liberation Sans', sans-serif" font-size="10.3" font-weight="normal" fill="#121212" stroke="#121212" stroke-width="0.08">16h</text>
<text transform="translate(488.09,225.20) scale(0.952,1)" font-family="'Liberation Sans', sans-serif" font-size="10.3" font-weight="normal" fill="#121212" stroke="#121212" stroke-width="0.08">17h</text>
<text x="503.35" y="264.10" font-family="'Liberation Sans', sans-serif" font-size="10.3" font-weight="normal" fill="#121212" stroke="#121212" stroke-width="0.08">18h</text>
<text transform="translate(91.84,32.60) scale(0.925,1)" font-family="'Liberation Sans', sans-serif" font-size="10.5" font-weight="normal" fill="#111" stroke="#111" stroke-width="0.15">Shading loss: 1%</text>
<text transform="translate(91.84,46.05) scale(0.925,1)" font-family="'Liberation Sans', sans-serif" font-size="10.5" font-weight="normal" fill="#111" stroke="#111" stroke-width="0.15">Shading loss: 5%</text>
<text transform="translate(91.84,59.50) scale(0.925,1)" font-family="'Liberation Sans', sans-serif" font-size="10.5" font-weight="normal" fill="#111" stroke="#111" stroke-width="0.15">Shading loss: 10%</text>
<text transform="translate(91.84,72.95) scale(0.925,1)" font-family="'Liberation Sans', sans-serif" font-size="10.5" font-weight="normal" fill="#111" stroke="#111" stroke-width="0.15">Shading loss: 20%</text>
<text transform="translate(91.84,86.40) scale(0.925,1)" font-family="'Liberation Sans', sans-serif" font-size="10.5" font-weight="normal" fill="#111" stroke="#111" stroke-width="0.15">Shading loss: 40%</text>
<text transform="translate(423.61,33.10) scale(0.917,1)" font-family="'Liberation Sans', sans-serif" font-size="10.3" font-weight="normal" fill="#111" stroke="#111" stroke-width="0.15">1: 22 June</text>
<text transform="translate(423.83,46.55) scale(0.934,1)" font-family="'Liberation Sans', sans-serif" font-size="10.3" font-weight="normal" fill="#111" stroke="#111" stroke-width="0.15">2: 22 May and 23 July</text>
<text transform="translate(423.81,60.00) scale(0.983,1)" font-family="'Liberation Sans', sans-serif" font-size="10.3" font-weight="normal" fill="#111" stroke="#111" stroke-width="0.15">3: 20 Apr and 23 Aug</text>
<text transform="translate(424.06,73.45) scale(0.944,1)" font-family="'Liberation Sans', sans-serif" font-size="10.3" font-weight="normal" fill="#111" stroke="#111" stroke-width="0.15">4: 20 Mar and 23 Sep</text>
<text transform="translate(423.83,86.90) scale(0.944,1)" font-family="'Liberation Sans', sans-serif" font-size="10.3" font-weight="normal" fill="#111" stroke="#111" stroke-width="0.15">5: 21 Feb and 23 Oct</text>
<text transform="translate(423.83,100.35) scale(0.939,1)" font-family="'Liberation Sans', sans-serif" font-size="10.3" font-weight="normal" fill="#111" stroke="#111" stroke-width="0.15">6: 19 Jan and 22 Nov</text>
<text transform="translate(423.83,113.80) scale(0.941,1)" font-family="'Liberation Sans', sans-serif" font-size="10.3" font-weight="normal" fill="#111" stroke="#111" stroke-width="0.15">7: 22 December</text>
<text x="118.25" y="13.50" font-family="'Liberation Sans', sans-serif" font-size="10.3" font-weight="bold" fill="#0a0aff">Beam shading factor (linear calculation) : Iso-shadings curves</text>
<text x="212.55" y="35.90" font-family="'Liberation Sans', sans-serif" font-size="10.6" font-weight="bold" fill="#000">Attenuation for diffuse: 0.012</text>
<text transform="translate(240.95,49.90) scale(1.006,1)" font-family="'Liberation Sans', sans-serif" font-size="10.6" font-weight="bold" fill="#000">and albedo: 0.681</text>
<text transform="translate(37.30,295.70) scale(0.937,1)" font-family="'Liberation Sans', sans-serif" font-size="10.6" font-weight="normal" fill="#0000ff">Behind</text>
<text transform="translate(26.98,305.20) scale(0.898,1)" font-family="'Liberation Sans', sans-serif" font-size="10.6" font-weight="normal" fill="#0000ff">the plane</text>
<text transform="translate(502.52,295.70) scale(0.908,1)" font-family="'Liberation Sans', sans-serif" font-size="10.6" font-weight="normal" fill="#0000ff">Behind</text>
<text transform="translate(502.57,305.20) scale(0.912,1)" font-family="'Liberation Sans', sans-serif" font-size="10.6" font-weight="normal" fill="#0000ff">the plane</text>
<text x="21.30" y="24.80" font-family="'Liberation Serif', serif" font-size="14.5" font-weight="normal" fill="#222" stroke="#222" stroke-width="0.1">90</text>
<text x="20.80" y="79.70" font-family="'Liberation Serif', serif" font-size="14.5" font-weight="normal" fill="#222" stroke="#222" stroke-width="0.1">75</text>
<text x="21.05" y="131.00" font-family="'Liberation Serif', serif" font-size="14.5" font-weight="normal" fill="#222" stroke="#222" stroke-width="0.1">60</text>
<text x="21.65" y="188.20" font-family="'Liberation Serif', serif" font-size="14.5" font-weight="normal" fill="#222" stroke="#222" stroke-width="0.1">45</text>
<text x="21.15" y="241.80" font-family="'Liberation Serif', serif" font-size="14.5" font-weight="normal" fill="#222" stroke="#222" stroke-width="0.1">30</text>
<text x="20.65" y="296.50" font-family="'Liberation Serif', serif" font-size="14.5" font-weight="normal" fill="#222" stroke="#222" stroke-width="0.1">15</text>
<text x="29.70" y="316.60" font-family="'Liberation Serif', serif" font-size="14.5" font-weight="normal" fill="#222" stroke="#222" stroke-width="0.1">0</text>
<text x="27.75" y="335.40" font-family="'Liberation Serif', serif" font-size="14" font-weight="normal" fill="#222" stroke="#222" stroke-width="0.1">−120</text>
<text x="89.85" y="335.40" font-family="'Liberation Serif', serif" font-size="14" font-weight="normal" fill="#222" stroke="#222" stroke-width="0.1">−90</text>
<text x="147.05" y="335.40" font-family="'Liberation Serif', serif" font-size="14" font-weight="normal" fill="#222" stroke="#222" stroke-width="0.1">−60</text>
<text x="211.75" y="335.40" font-family="'Liberation Serif', serif" font-size="14" font-weight="normal" fill="#222" stroke="#222" stroke-width="0.1">−30</text>
<text x="283.00" y="335.40" font-family="'Liberation Serif', serif" font-size="14" font-weight="normal" fill="#222" stroke="#222" stroke-width="0.1">0</text>
<text x="339.35" y="335.40" font-family="'Liberation Serif', serif" font-size="14" font-weight="normal" fill="#222" stroke="#222" stroke-width="0.1">30</text>
<text x="400.70" y="335.40" font-family="'Liberation Serif', serif" font-size="14" font-weight="normal" fill="#222" stroke="#222" stroke-width="0.1">60</text>
<text x="463.00" y="335.40" font-family="'Liberation Serif', serif" font-size="14" font-weight="normal" fill="#222" stroke="#222" stroke-width="0.1">90</text>
<text x="517.85" y="335.40" font-family="'Liberation Serif', serif" font-size="14" font-weight="normal" fill="#222" stroke="#222" stroke-width="0.1">120</text>
<text transform="translate(247.93,351.00) scale(1.074,1)" font-family="'Liberation Serif', serif" font-size="14" font-weight="normal" fill="#222" stroke="#222" stroke-width="0.1">Azimuth</text>
<text transform="translate(302.03,351.00) scale(0.945,1)" font-family="'Liberation Serif', serif" font-size="14" font-weight="normal" fill="#222" stroke="#222" stroke-width="0.1">(°)</text>
<text transform="translate(11.3,165) rotate(-90)" text-anchor="middle" font-family="'Liberation Serif', serif" font-size="12.4" fill="#222">Sun height (°)</text>
</svg>
</body></html>
